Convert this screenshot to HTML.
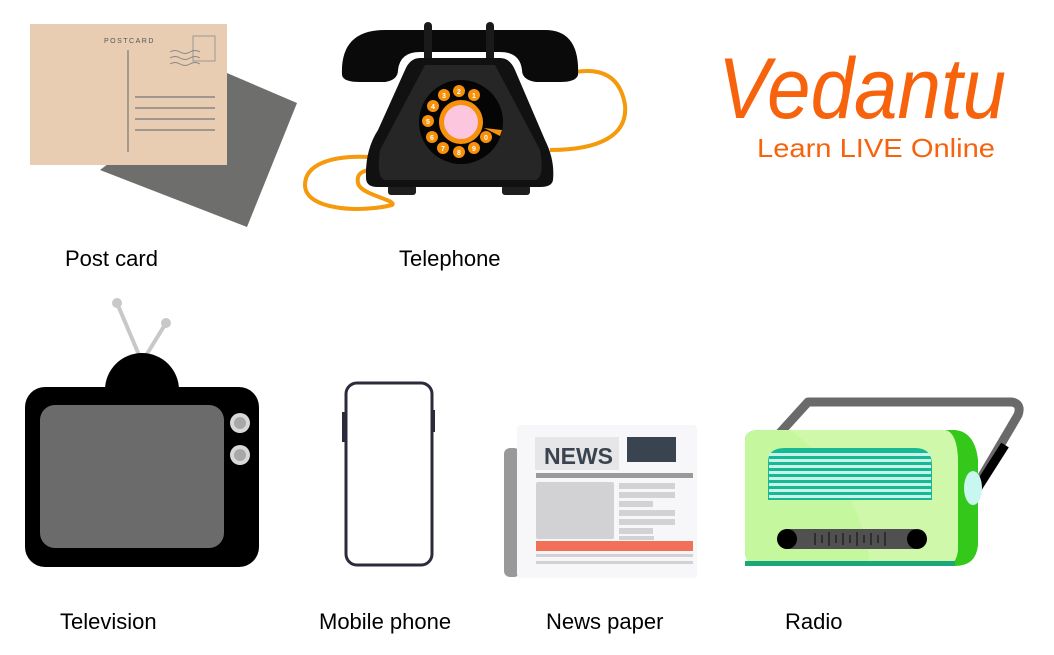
<!DOCTYPE html>
<html><head><meta charset="utf-8"><style>
html,body{margin:0;padding:0;background:#fff;}
svg{display:block;}
text{font-family:"Liberation Sans",sans-serif;}
</style></head><body>
<svg width="1054" height="655" viewBox="0 0 1054 655" xmlns="http://www.w3.org/2000/svg">
<!-- Postcard -->
<polygon points="227,73 297,103 247,227 100,170" fill="#6e6e6c"/>
<rect x="30" y="24" width="197" height="141" fill="#e8cdb3"/>
<text x="104" y="43" font-size="7" letter-spacing="1.5" fill="#555">POSTCARD</text>
<rect x="193" y="36" width="22" height="25" fill="none" stroke="#999" stroke-width="1"/>
<path d="M170,52 q5,-3 10,0 t10,0 t10,0 M170,58 q5,-3 10,0 t10,0 t10,0 M170,64 q5,-3 10,0 t10,0 t10,0" fill="none" stroke="#888" stroke-width="1"/>
<line x1="128" y1="50" x2="128" y2="152" stroke="#777" stroke-width="1.2"/>
<g stroke="#777" stroke-width="1.2"><line x1="135" y1="97" x2="215" y2="97"/><line x1="135" y1="108" x2="215" y2="108"/><line x1="135" y1="119" x2="215" y2="119"/><line x1="135" y1="130" x2="215" y2="130"/></g>

<!-- Telephone -->
<path d="M575,72 C600,68 620,75 625,105 C628,135 600,150 550,150" fill="none" stroke="#f59a0c" stroke-width="4"/>
<path d="M370,157 C330,155 305,165 305,185 C305,210 360,213 392,205 C398,200 360,195 358,183 C356,173 364,170 372,170" fill="none" stroke="#f59a0c" stroke-width="4"/>
<path d="M342,75 Q340,30 385,30 L545,30 Q580,30 578,75 Q576,82 560,82 L536,82 Q522,80 522,70 Q520,52 500,52 L420,52 Q400,52 398,70 Q398,80 385,82 L360,82 Q343,82 342,75 Z" fill="#0a0a0a"/>
<rect x="424" y="22" width="8" height="40" rx="4" fill="#1a1a1a"/>
<rect x="486" y="22" width="8" height="40" rx="4" fill="#1a1a1a"/>
<rect x="388" y="185" width="28" height="10" rx="3" fill="#1e1e1e"/>
<rect x="502" y="185" width="28" height="10" rx="3" fill="#1e1e1e"/>
<path d="M420,58 L500,58 Q510,58 515,70 L545,140 Q555,160 553,180 Q552,187 540,187 L378,187 Q366,187 366,178 Q365,150 378,130 L405,70 Q410,58 420,58 Z" fill="#111"/>
<path d="M425,65 L495,65 L540,150 Q545,178 535,180 L385,180 Q376,178 380,150 Z" fill="#262626"/>
<circle cx="461" cy="122" r="42" fill="#050505"/>
<circle cx="461" cy="122" r="22" fill="#f7900a"/>
<circle cx="461" cy="122" r="17" fill="#fbc6de"/>
<polygon points="484,128 502,130 500,136" fill="#f7900a"/>
<g fill="#f7900a">
<circle cx="474" cy="95" r="6"/><circle cx="459" cy="91" r="6"/><circle cx="444" cy="95" r="6"/><circle cx="433" cy="106" r="6"/><circle cx="428" cy="121" r="6"/><circle cx="432" cy="137" r="6"/><circle cx="443" cy="148" r="6"/><circle cx="459" cy="152" r="6"/><circle cx="474" cy="148" r="6"/><circle cx="486" cy="137" r="6"/>
</g>
<g fill="#fff" font-size="7" font-weight="bold" text-anchor="middle">
<text x="474" y="98">1</text><text x="459" y="94">2</text><text x="444" y="98">3</text><text x="433" y="109">4</text><text x="428" y="124">5</text><text x="432" y="140">6</text><text x="443" y="151">7</text><text x="459" y="155">8</text><text x="474" y="151">9</text><text x="486" y="140">0</text>
</g>

<!-- Logo -->
<text x="718" y="118" font-size="86" font-style="italic" fill="#f7630c" textLength="288" lengthAdjust="spacingAndGlyphs">Vedantu</text>
<text x="757" y="157" font-size="26" fill="#f7630c" textLength="238" lengthAdjust="spacingAndGlyphs">Learn LIVE Online</text>

<!-- Labels top -->
<text x="65" y="266" font-size="22" fill="#000">Post card</text>
<text x="399" y="266" font-size="22" fill="#000">Telephone</text>

<!-- Television -->
<line x1="142" y1="362" x2="117" y2="303" stroke="#c8c8c8" stroke-width="4"/>
<line x1="142" y1="362" x2="166" y2="323" stroke="#c8c8c8" stroke-width="4"/>
<circle cx="117" cy="303" r="5" fill="#c8c8c8"/><circle cx="166" cy="323" r="5" fill="#c8c8c8"/>
<path d="M105,390 A37,37 0 0 1 179,390 Z" fill="#000"/>
<rect x="25" y="387" width="234" height="180" rx="20" fill="#000"/>
<rect x="40" y="405" width="184" height="143" rx="15" fill="#6b6b6b"/>
<circle cx="240" cy="423" r="10" fill="#d8d8d8"/><circle cx="240" cy="455" r="10" fill="#d8d8d8"/>
<circle cx="240" cy="423" r="6" fill="#a8a8a8"/><circle cx="240" cy="455" r="6" fill="#a8a8a8"/>

<!-- Mobile -->
<rect x="342" y="412" width="4" height="30" fill="#2b2b3b"/>
<rect x="431" y="410" width="4" height="22" fill="#2b2b3b"/>
<rect x="346" y="383" width="86" height="182" rx="11" fill="#fff" stroke="#2b2b3b" stroke-width="3"/>

<!-- Newspaper -->
<rect x="504" y="448" width="16" height="129" rx="6" fill="#999"/>
<rect x="517" y="425" width="180" height="153" rx="4" fill="#f7f6f8"/>
<rect x="535" y="437" width="84" height="33" fill="#e6e6e8"/>
<text x="544" y="464" font-size="23" font-weight="bold" fill="#3a4450">NEWS</text>
<rect x="627" y="437" width="49" height="25" fill="#3a4450"/>
<rect x="536" y="473" width="157" height="5" fill="#9a9a9a"/>
<rect x="536" y="482" width="78" height="57" rx="2" fill="#d2d2d4"/>
<g fill="#d2d2d4"><rect x="619" y="483" width="56" height="6"/><rect x="619" y="492" width="56" height="6"/><rect x="619" y="501" width="34" height="6"/><rect x="619" y="510" width="56" height="6"/><rect x="619" y="519" width="56" height="6"/><rect x="619" y="528" width="34" height="6"/><rect x="619" y="536" width="35" height="4"/>
<rect x="536" y="554" width="157" height="3"/><rect x="536" y="561" width="157" height="3"/></g>
<rect x="536" y="541" width="157" height="10" fill="#f37058"/>

<!-- Radio -->
<path d="M778,435 L808,402 L1012,402 Q1022,404 1018,415 L968,500" fill="none" stroke="#6a6a6a" stroke-width="9" stroke-linejoin="round"/>
<path d="M1005,445 L970,500" stroke="#000" stroke-width="9"/>
<path d="M745,440 Q745,430 760,430 L955,430 Q975,432 978,460 L978,545 Q976,566 955,566 L760,566 Q745,566 745,550 Z" fill="#33c81a"/>
<path d="M745,440 Q745,430 760,430 L945,430 Q957,432 958,460 L958,550 Q956,566 945,566 L760,566 Q745,566 745,550 Z" fill="#c5f79e"/>
<path d="M790,430 L945,430 Q957,432 958,460 L958,550 Q956,566 945,566 L870,566 Q860,480 790,430 Z" fill="#d0f8ab"/>
<path d="M768,462 Q768,448 785,448 L915,448 Q932,448 932,465 L932,500 L768,500 Z" fill="#17b894"/>
<g fill="#c8f3e8"><rect x="769" y="453" width="162" height="3"/><rect x="769" y="459" width="162" height="3"/><rect x="769" y="465" width="162" height="3"/><rect x="769" y="471" width="162" height="3"/><rect x="769" y="477" width="162" height="3"/><rect x="769" y="483" width="162" height="3"/><rect x="769" y="489" width="162" height="3"/><rect x="769" y="495" width="162" height="3"/></g>
<rect x="785" y="529" width="130" height="20" fill="#505050"/>
<circle cx="787" cy="539" r="10" fill="#000"/><circle cx="917" cy="539" r="10" fill="#000"/>
<path d="M815,533 v12 M822,535 v8 M829,532 v14 M836,535 v8 M843,533 v12 M850,535 v8 M857,532 v14 M864,535 v8 M871,533 v12 M878,535 v8 M885,532 v14" stroke="#222" stroke-width="1.5"/>
<rect x="745" y="561" width="210" height="5" fill="#1aa87a"/>
<ellipse cx="973" cy="488" rx="9" ry="17" fill="#c8f7ef"/>

<!-- Labels bottom -->
<text x="60" y="629" font-size="22" fill="#000">Television</text>
<text x="319" y="629" font-size="22" fill="#000">Mobile phone</text>
<text x="546" y="629" font-size="22" fill="#000">News paper</text>
<text x="785" y="629" font-size="22" fill="#000">Radio</text>
</svg>
</body></html>
